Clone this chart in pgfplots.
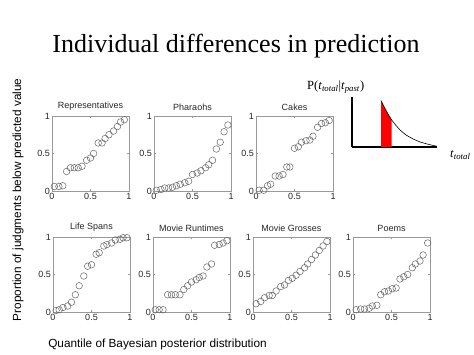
\documentclass[border=0pt]{standalone}
\usepackage{pgfplots}
\pgfplotsset{compat=1.18}
\usepackage{fontspec}
\setmainfont{Liberation Sans}
\newfontfamily\serif{Liberation Serif}

\pgfplotsset{
 panel/.style={
  scale only axis, width=77pt, height=75pt,
  xmin=0,xmax=1,ymin=0,ymax=1,
  xtick={0,0.5,1}, ytick={0,0.5,1},
  xticklabels={0,0.5,1}, yticklabels={0,0.5,1},
  tick align=inside, major tick length=2pt,
  axis line style={black!40}, tick style={black!40},
  tick label style={font=\fontsize{9}{10}\selectfont, text=black!85},
  xticklabel style={inner sep=2pt},
  yticklabel style={inner sep=2pt},
  title style={font=\fontsize{9}{10}\selectfont, text=black!85, yshift=-4pt},
  anchor=south west,
  clip=false,
 },
 circ/.style={only marks, mark=o, mark size=3.3pt, color=black!60, mark options={line width=0.5pt, fill=none}},
}

\begin{document}
\begin{tikzpicture}[x=1pt,y=1pt]
\useasboundingbox (0,0) rectangle (474,355);

% ---------- top row ----------
\begin{axis}[panel, at={(52pt,164pt)}, title={Representatives}]
\addplot[circ] coordinates {(0.03,0.06) (0.09,0.06) (0.14,0.07) (0.19,0.26) (0.24,0.31) (0.29,0.31) (0.34,0.31) (0.39,0.33) (0.45,0.41) (0.50,0.44) (0.54,0.50) (0.60,0.64) (0.65,0.64) (0.69,0.70) (0.74,0.75) (0.80,0.80) (0.85,0.86) (0.89,0.92) (0.94,0.95)};
\end{axis}

\begin{axis}[panel, at={(154pt,164pt)}, title={Pharaohs}]
\addplot[circ] coordinates {(0.03,0.01) (0.09,0.02) (0.14,0.04) (0.19,0.04) (0.24,0.05) (0.29,0.07) (0.34,0.09) (0.40,0.11) (0.45,0.13) (0.50,0.22) (0.56,0.24) (0.61,0.27) (0.67,0.31) (0.71,0.35) (0.76,0.41) (0.81,0.56) (0.86,0.65) (0.91,0.79) (0.96,0.88)};
\end{axis}

\begin{axis}[panel, at={(256pt,164pt)}, title={Cakes}]
\addplot[circ] coordinates {(0.04,0.01) (0.10,0.01) (0.15,0.07) (0.19,0.09) (0.25,0.20) (0.30,0.20) (0.35,0.22) (0.40,0.32) (0.44,0.32) (0.50,0.57) (0.55,0.59) (0.59,0.65) (0.65,0.67) (0.70,0.68) (0.74,0.73) (0.80,0.85) (0.85,0.90) (0.90,0.91) (0.95,0.94)};
\end{axis}

% ---------- bottom row ----------
\begin{axis}[panel, at={(53pt,43pt)}, title={Life Spans}]
\addplot[circ] coordinates {(0.04,0.02) (0.08,0.03) (0.13,0.06) (0.19,0.08) (0.24,0.13) (0.29,0.23) (0.34,0.35) (0.40,0.48) (0.45,0.61) (0.50,0.63) (0.56,0.77) (0.60,0.79) (0.66,0.88) (0.70,0.90) (0.76,0.92) (0.81,0.96) (0.87,0.97) (0.91,0.99) (0.96,0.99)};
\end{axis}

\begin{axis}[panel, at={(153pt,43pt)}, title={Movie Runtimes}]
\addplot[circ] coordinates {(0.03,0.03) (0.08,0.03) (0.13,0.03) (0.19,0.23) (0.24,0.23) (0.29,0.23) (0.35,0.23) (0.40,0.30) (0.45,0.35) (0.50,0.40) (0.56,0.43) (0.60,0.46) (0.65,0.48) (0.70,0.60) (0.76,0.64) (0.80,0.89) (0.86,0.90) (0.91,0.92) (0.96,0.95)};
\end{axis}

\begin{axis}[panel, at={(253pt,43pt)}, title={Movie Grosses}]
\addplot[circ] coordinates {(0.04,0.11) (0.10,0.14) (0.15,0.19) (0.21,0.22) (0.25,0.22) (0.30,0.28) (0.36,0.34) (0.41,0.36) (0.46,0.42) (0.51,0.45) (0.56,0.49) (0.61,0.54) (0.67,0.59) (0.71,0.64) (0.76,0.70) (0.81,0.76) (0.86,0.82) (0.91,0.88) (0.96,0.94)};
\end{axis}

\begin{axis}[panel, at={(353pt,43pt)}, title={Poems}]
\addplot[circ] coordinates {(0.04,0.03) (0.10,0.04) (0.15,0.04) (0.21,0.05) (0.25,0.08) (0.31,0.09) (0.36,0.23) (0.41,0.27) (0.46,0.28) (0.51,0.31) (0.56,0.32) (0.61,0.44) (0.66,0.47) (0.71,0.50) (0.77,0.59) (0.81,0.64) (0.87,0.68) (0.91,0.76) (0.97,0.92)};
\end{axis}

% ---------- inset ----------
\begin{axis}[scale only axis, width=85pt, height=50pt, at={(352pt,208pt)}, anchor=south west,
  xmin=0, xmax=85, ymin=0, ymax=50,
  axis x line=bottom, axis y line=left,
  axis line style={-, line width=1.6pt, black},
  ticks=none, clip=false]
\addplot[fill=red, draw=none] coordinates {(29,0) (29,46.3) (33,38.5) (36,33) (39.7,27) (39.7,0)} -- cycle;
\addplot[black, line width=0.6pt] coordinates {(29,46.3) (33,38.5) (36,33) (39.7,27) (44,21.5) (48,17) (54,12) (61,8) (68,5) (75,3) (81,1.5) (85,0.8)};
\end{axis}

% ---------- texts ----------
\node[anchor=base, font=\serif\fontsize{26}{30}\selectfont] at (236,302.5) {Individual differences in prediction};
\node[rotate=90, font=\fontsize{11.8}{13}\selectfont] at (18,155) {Proportion of judgments below predicted value};
\node[anchor=base, font=\fontsize{11.8}{13}\selectfont] at (157.5,7.5) {Quantile of Bayesian posterior distribution};
\node[anchor=base west, inner sep=0pt, font=\serif\fontsize{12.5}{14}\selectfont] at (307,265) {P(\textit{t}\textsubscript{\textit{total}}|\textit{t}\textsubscript{\textit{past}})};
\node[anchor=base west, inner sep=0pt, font=\serif\fontsize{12.5}{14}\selectfont] at (450,197) {\textit{t}\textsubscript{\textit{total}}};
\end{tikzpicture}
\end{document}
